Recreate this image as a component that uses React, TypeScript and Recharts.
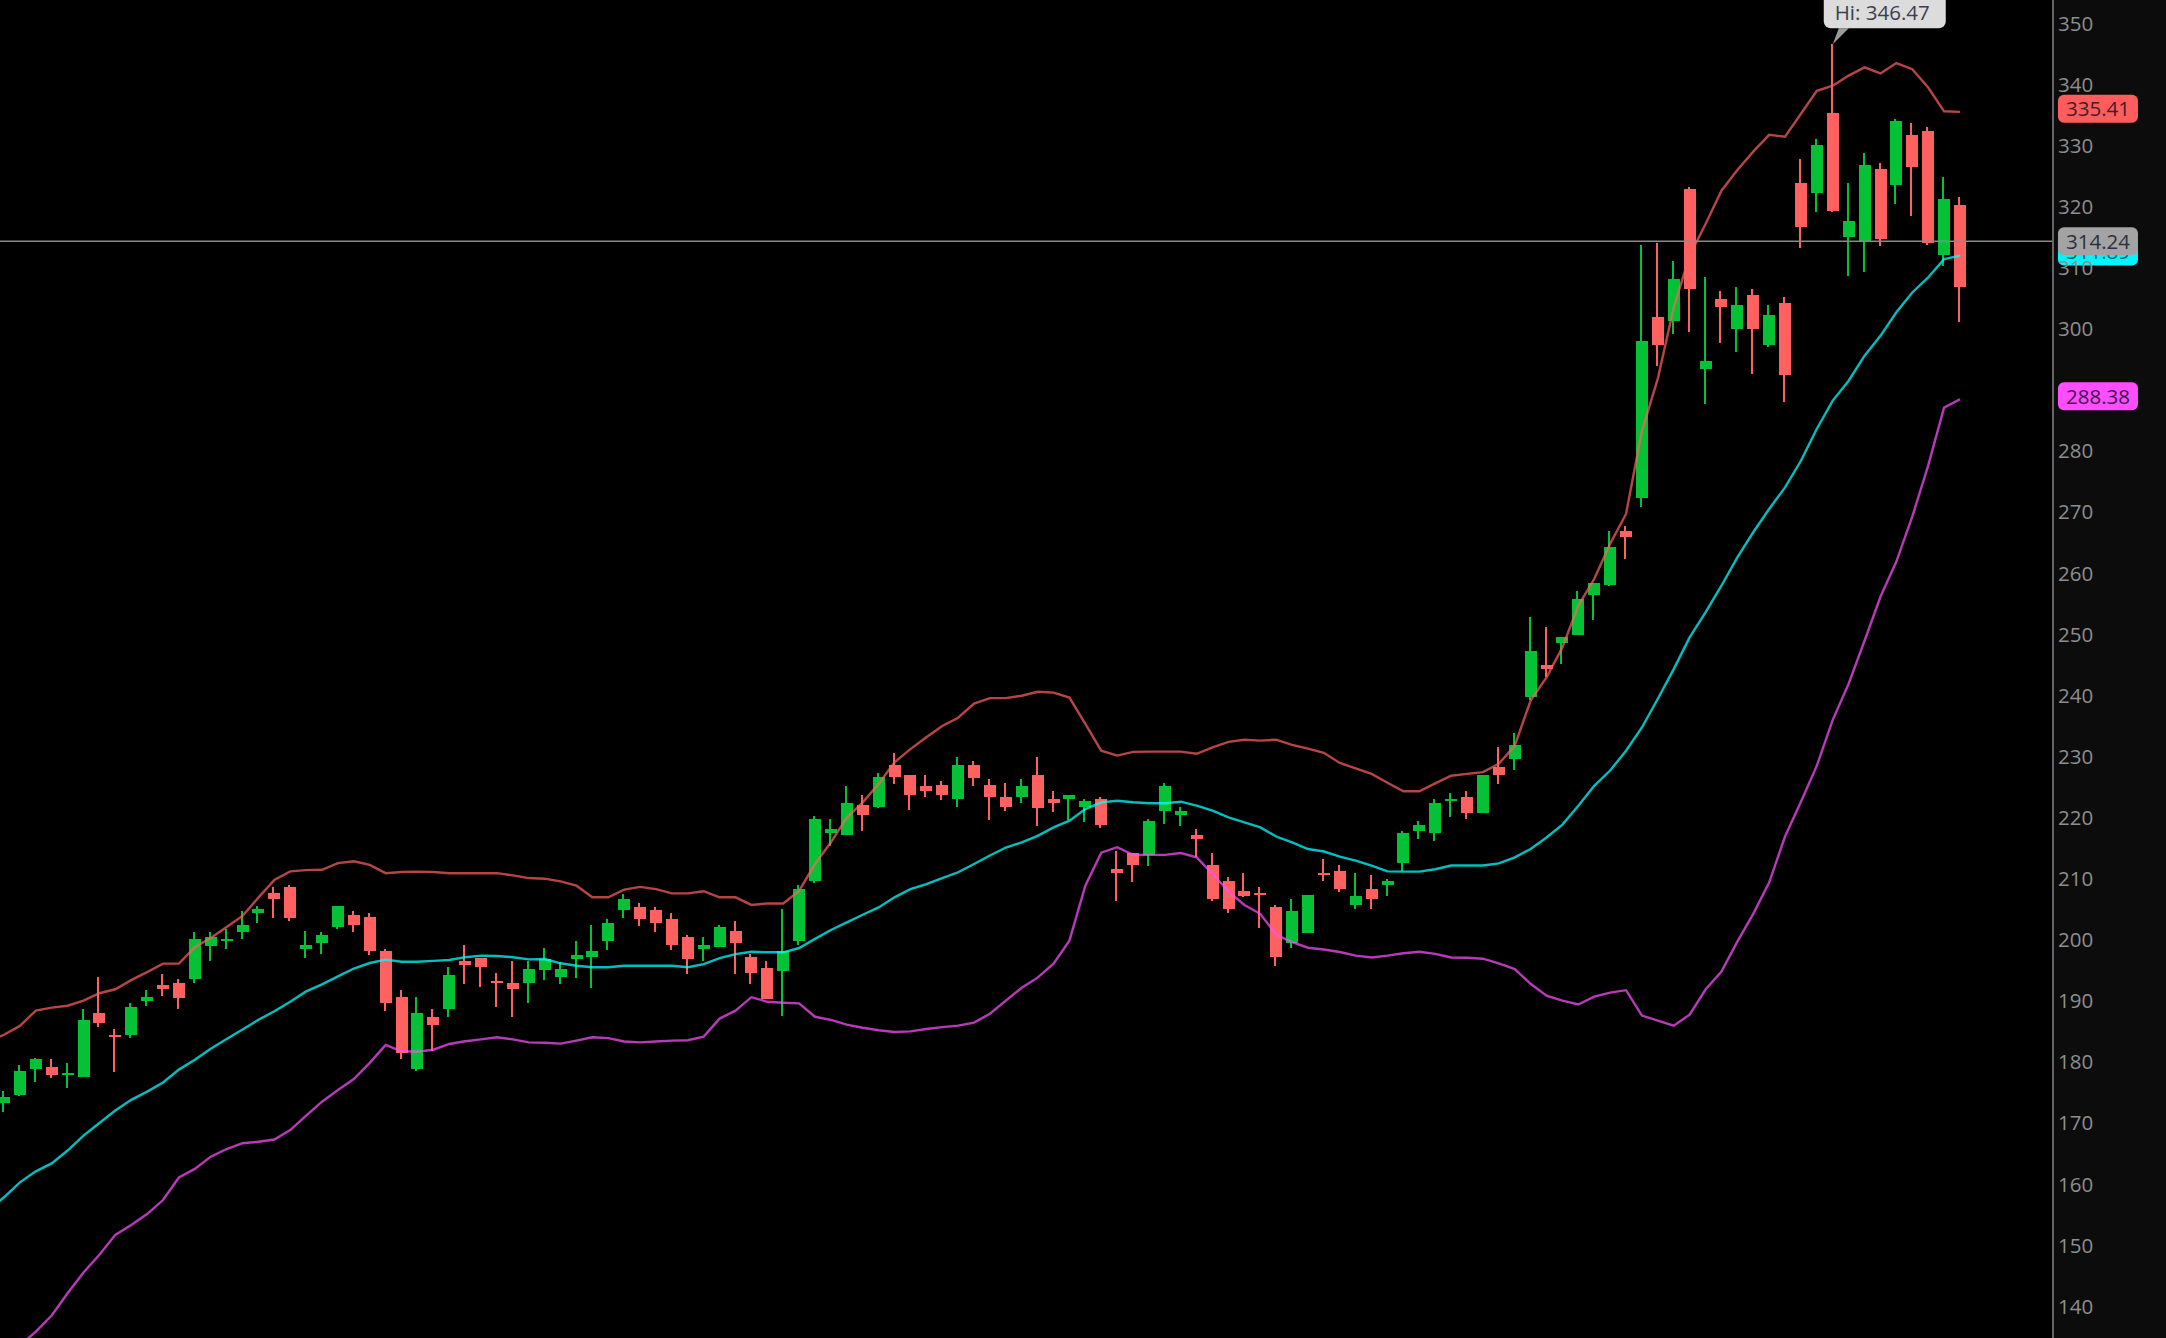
import { ComposedChart, Bar, Line, XAxis, YAxis, ReferenceLine, ReferenceDot } from 'recharts';

// the first entry of each list is the session just left of the visible edge
const opens = [
  172.5,
  173.2, 174.55, 178.8, 179.1, 177.9, 177.5, 187.95, 184.35, 184.35, 189.9,
  192.55, 192.9, 193.5, 198.8, 199.8, 201.1, 204.3, 207.6, 208.55, 198.4,
  199.4, 202, 204, 203.7, 198.1, 190.55, 178.8, 187.3, 188.6, 196.45,
  196.85, 193.2, 192.9, 192.9, 194.9, 193.85, 196.8, 197.15, 199.75, 204.7,
  205.3, 204.7, 203.35, 200.4, 198.45, 198.75, 201.4, 197.15, 195.2, 194.85,
  199.75, 209.55, 217.4, 217.1, 222, 221.7, 228.55, 226.9, 225, 225.3,
  223, 228.55, 225.3, 223.3, 223.3, 226.9, 223, 223, 221.65, 223,
  211.55, 214.15, 213.8, 221, 220.4, 217.1, 212.2, 209.55, 207.9, 207.6,
  205.3, 199.4, 201.05, 210.9, 211.2, 205.65, 208.25, 208.9, 212.5, 217.75,
  217.4, 222.65, 223.3, 220.7, 228.2, 229.55, 239.7, 244.9, 248.5, 249.85,
  256.4, 258, 266.85, 272.15, 301.9, 301.25, 322.8, 293.35, 304.8, 299.9,
  305.5, 297.3, 304.2, 323.8, 322.2, 335.25, 315, 314.3, 326.1, 323.5,
  331.65, 332.3, 312.05, 320.2,
];

const closes = [
  173,
  174.2, 178.5, 180.4, 177.8, 178.15, 186.7, 186.3, 184.1, 188.9, 190.55,
  191.9, 190.3, 200.05, 200.4, 200.05, 202.4, 205, 206.65, 203.4, 199.1,
  200.75, 205.35, 202.4, 198.1, 189.6, 181.4, 187.95, 186, 194.2, 195.85,
  195.5, 192.9, 191.9, 195.15, 196.8, 195.15, 197.45, 198.1, 202.7, 206.6,
  203.35, 202.7, 199.1, 196.8, 199.1, 202.05, 199.4, 194.5, 190.2, 198.1,
  208.25, 219.75, 218.1, 222.35, 220.35, 226.6, 226.6, 223.65, 224.3, 223.65,
  228.55, 226.3, 223.3, 221.7, 225, 221.4, 222.35, 223.65, 222.65, 218.75,
  210.9, 212.2, 219.4, 225, 221, 216.45, 206.6, 205, 207, 207.3,
  197.15, 204.65, 207.3, 210.55, 208.25, 207, 206.6, 209.55, 217.4, 218.75,
  222.35, 223, 220.7, 226.95, 226.95, 231.85, 247.2, 244.25, 249.5, 255.75,
  258.35, 264.25, 265.85, 297.95, 297.3, 308.1, 306.45, 294.7, 303.5, 303.85,
  299.9, 302.2, 292.4, 316.6, 330, 319.25, 317.6, 326.75, 314.65, 333.95,
  326.45, 314, 321.2, 306.8,
];

const highs = [
  174,
  175.2, 179.4, 180.5, 180.4, 179.7, 188.6, 193.75, 185.35, 189.6, 191.6,
  194.25, 193.5, 201.1, 201.1, 201.7, 204.6, 205.35, 208.5, 208.9, 201.4,
  201.1, 205.35, 204.65, 204.3, 198.45, 191.6, 190.55, 188.6, 195.5, 199.1,
  196.85, 194.5, 196.45, 196.45, 198.6, 196.2, 199.75, 202.3, 203.25, 207.4,
  206, 205.3, 204.3, 200.65, 200.3, 202.3, 203, 197.55, 196.5, 204.9,
  208.9, 220.1, 219.7, 225, 223.65, 227.2, 230.5, 226.9, 226.9, 225.95,
  229.85, 229.2, 226.2, 225.6, 226.2, 229.85, 224.3, 223.65, 222.95, 223.3,
  214.45, 214.15, 219.65, 225.55, 221.65, 218, 214.15, 210.25, 210.85, 208.5,
  205.6, 206.6, 207.3, 213.1, 212.15, 210.85, 210.5, 209.85, 217.75, 219.4,
  222.95, 223.9, 224.3, 226.95, 231.4, 233.7, 252.8, 251.15, 249.5, 257,
  258.35, 266.75, 267.7, 313.6, 313.95, 311, 323.15, 308.3, 306.15, 306.8,
  306.45, 303.85, 305.15, 327.7, 331, 346.47, 323.7, 328.65, 327, 334.25,
  333.6, 333, 324.7, 321.4,
];

const lows = [
  171.5,
  171.7, 174.3, 176.6, 177.2, 175.6, 177.5, 185.7, 178.2, 183.8, 189,
  190.65, 188.65, 192.9, 196.45, 198.4, 200.05, 202.7, 203.4, 203.05, 196.85,
  197.5, 201.7, 201.1, 197.4, 188.3, 180.45, 178.45, 181.75, 187.3, 192.6,
  192.25, 188.9, 187.3, 189.6, 193.35, 192.7, 193.65, 192, 198.25, 203.45,
  202.2, 201.15, 198.25, 194.25, 196.5, 198.65, 194.25, 192.7, 190.2, 187.35,
  199.1, 209.25, 215.3, 217.1, 217.75, 221.4, 225.4, 221.1, 223.3, 222.8,
  221.7, 225, 219.55, 221.05, 222.35, 218.45, 220.75, 219.55, 219.1, 218.2,
  206.3, 209.35, 212, 218.85, 218.5, 213.5, 206.3, 204.35, 206.85, 201.8,
  195.55, 198.55, 201, 209.55, 207.65, 205, 205, 207, 211.1, 216.45,
  216.1, 220.05, 219.7, 220.7, 225.4, 227.7, 239.15, 242.85, 245.05, 249.85,
  252.25, 257.8, 262.3, 270.8, 293.85, 299.05, 299.3, 287.6, 297.65, 296.05,
  292.5, 297, 287.85, 313.05, 318.95, 319.1, 308.6, 309.15, 313.4, 320.3,
  318.3, 313.65, 310.2, 301,
];

const upperBand = [
  183.2,
  184.35, 185.8, 188.3, 188.8, 189.1, 189.95, 191.15, 191.8, 193.3, 194.6,
  196, 196, 198.7, 200.2, 202, 203.8, 206.8, 209.7, 211.1, 211.3,
  211.35, 212.45, 212.75, 212.15, 210.8, 211, 211.05, 211, 210.8, 210.8,
  210.8, 210.8, 210.45, 210, 209.9, 209.45, 208.75, 206.85, 206.85, 208.1,
  208.55, 208.2, 207.5, 207.5, 207.85, 206.85, 206.85, 205.6, 205.85, 205.85,
  207.9, 212.3, 215.85, 219.9, 222.4, 225.4, 228.95, 231.1, 233.05, 234.9,
  236.25, 238.55, 239.45, 239.45, 239.85, 240.5, 240.35, 239.55, 235.25, 230.85,
  230.05, 230.65, 230.7, 230.7, 230.7, 230.35, 231.4, 232.3, 232.65, 232.5,
  232.65, 231.8, 231.2, 230.5, 228.85, 227.95, 227.05, 225.6, 224.2, 224.2,
  225.5, 226.75, 227.05, 227.35, 228.7, 231.65, 239.05, 242.85, 247.75, 254.6,
  258.95, 264.7, 269.6, 283.2, 291.75, 303.4, 311.85, 317.05, 322.5, 325.9,
  328.9, 331.65, 331.35, 335.1, 338.85, 339.7, 341.35, 342.7, 341.7, 343.4,
  342.4, 339.4, 335.5, 335.41,
];

const middleBand = [
  155.6,
  157.75, 160.2, 162, 163.3, 165.4, 167.85, 169.9, 171.95, 173.7, 175.05,
  176.55, 178.65, 180.25, 182.05, 183.65, 185.2, 186.8, 188.2, 189.75, 191.45,
  192.6, 193.9, 195.2, 196.1, 196.65, 196.3, 196.3, 196.45, 196.6, 197.05,
  197.3, 197.25, 197.05, 196.7, 196.75, 196.05, 195.65, 195.4, 195.4, 195.65,
  195.65, 195.65, 195.65, 195.4, 195.9, 196.9, 197.55, 197.95, 197.85, 197.85,
  198.55, 200.05, 201.5, 202.75, 204, 205.2, 206.85, 208.2, 209, 210,
  210.95, 212.3, 213.7, 215, 215.85, 216.9, 218.3, 219.4, 221.3, 222.4,
  222.65, 222.4, 222.25, 222.25, 222.5, 221.85, 221.05, 219.95, 219.1, 218.3,
  216.8, 215.85, 214.75, 214.35, 213.5, 212.85, 212.05, 211.1, 211.05, 211.05,
  211.45, 212.05, 212.05, 212.05, 212.4, 213.4, 214.75, 216.65, 218.75, 221.85,
  225.1, 227.6, 230.85, 234.65, 239.35, 244.2, 249.4, 253.5, 257.85, 262.5,
  266.6, 270.4, 273.95, 278.3, 283.55, 288.15, 291.4, 295.5, 298.75, 302.6,
  305.85, 308.3, 311.3, 311.89,
];

const lowerBand = [
  128.5,
  131, 133.5, 135.75, 138.4, 142.05, 145.45, 148.35, 151.6, 153.2, 155,
  157.3, 161, 162.4, 164.4, 165.65, 166.6, 166.85, 167.2, 168.75, 171.1,
  173.4, 175.3, 177.1, 179.75, 182.7, 181.65, 181.6, 181.9, 182.85, 183.3,
  183.6, 183.95, 183.6, 183.1, 183.05, 182.9, 183.4, 183.95, 183.8, 183.25,
  183.1, 183.25, 183.4, 183.45, 184.05, 187, 188.3, 190.5, 189.75, 189.6,
  189.5, 187.3, 186.8, 186, 185.5, 185.1, 184.8, 184.9, 185.3, 185.6,
  185.85, 186.35, 187.8, 189.95, 192.05, 193.7, 196, 199.75, 208.75, 214.15,
  215.05, 213.8, 213.8, 213.8, 214.1, 213.4, 210.7, 207.8, 205.6, 204.15,
  200.75, 199.5, 198.6, 198.3, 197.9, 197.3, 197, 197.3, 197.7, 197.95,
  197.6, 197, 196.95, 196.8, 196.05, 195.1, 192.7, 190.75, 189.95, 189.3,
  190.6, 191.25, 191.65, 187.5, 186.65, 185.85, 187.65, 191.75, 194.7, 199.6,
  204.15, 209.25, 216.8, 222.5, 228.4, 235.9, 241.8, 248.85, 256.05, 261.8,
  269.15, 277.5, 287, 288.38,
];

const axisTicks = [350, 340, 330, 320, 310, 300, 280, 270, 260, 250, 240, 230, 220, 210, 200, 190, 180, 170, 160, 150, 140];

const lastIndex = opens.length - 2;
const highIndex = 115;
const highValue = 346.47;
const crosshairValue = 314.24;

const rows = opens.map((open, i) => ({
  idx: i - 1,
  open,
  close: closes[i],
  high: highs[i],
  low: lows[i],
  range: [lows[i], highs[i]],
  upper: upperBand[i],
  middle: middleBand[i],
  lower: lowerBand[i],
}));

const FONT = '"Open Sans", sans-serif';
const GREEN = '#05c135';
const RED = '#ff6161';

function Candle(props: any) {
  const { x, y, width, height, payload } = props;
  const { open, close, high, low } = payload;
  const perUnit = height / (high - low);
  const toY = (v: number) => y + (high - v) * perUnit;
  const top = Math.round(toY(Math.max(open, close)));
  const bottom = Math.round(toY(Math.min(open, close)));
  const left = Math.round(x);
  const fill = close >= open ? GREEN : RED;
  return (
    <g shapeRendering="crispEdges">
      <rect x={left + 4} y={y} width={2} height={height} fill={fill} />
      <rect x={left} y={top} width={width} height={Math.max(bottom - top, 2)} fill={fill} />
    </g>
  );
}

// price tag sitting on the axis, anchored to the last candle
function priceTag(label: string, fill: string, textFill: string, shift: number) {
  return (props: any) => {
    const left = props.cx + 98;
    const mid = props.cy + shift;
    return (
      <g>
        <rect x={left} y={mid - 14} width={80} height={28} rx={6} fill={fill} />
        <text x={left + 40} y={mid + 7.5} textAnchor="middle" fontFamily={FONT} fontSize={20.5} fill={textFill}>
          {label}
        </text>
      </g>
    );
  };
}

function HighTag(props: any) {
  const { cx, cy } = props;
  return (
    <g>
      <polygon points={`${cx},${cy} ${cx + 6},${cy - 16} ${cx + 16},${cy - 16}`} fill="#9a9a9a" />
      <rect x={cx - 9} y={cy - 56} width={122} height={40} rx={7} fill="#dcdcdc" />
      <text x={cx + 2} y={cy - 24.5} fontFamily={FONT} fontSize={20.5} fill="#3a3f4e">
        Hi: {highValue}
      </text>
    </g>
  );
}

function AxisTick(props: any) {
  const { x, y, payload } = props;
  return (
    <text x={x - 3} y={y + 8} fontFamily={FONT} fontSize={20.5} fill="#8e8e8e">
      {payload.value}
    </text>
  );
}

export default function App() {
  return (
    <div style={{ position: 'absolute', left: 0, top: 0, width: 2166, height: 1338, background: '#000', overflow: 'hidden' }}>
      <div style={{ position: 'absolute', left: 2053, top: 0, width: 113, height: 1338, background: '#0c0c0c' }} />
      <ComposedChart width={2166} height={1338} data={rows} margin={{ top: 0, right: 0, bottom: 0, left: 0 }}>
        <XAxis dataKey="idx" type="number" domain={[-0.25, 128.85]} hide allowDataOverflow />
        <YAxis
          orientation="right"
          width={113}
          domain={[134.72, 353.72]}
          ticks={axisTicks}
          interval={0}
          allowDataOverflow
          tickLine={false}
          axisLine={{ stroke: '#666666', strokeWidth: 2 }}
          tick={<AxisTick />}
        />
        <Bar dataKey="range" barSize={12} shape={<Candle />} isAnimationActive={false} />
        <Line type="linear" dataKey="upper" stroke="#ff5f5f" strokeOpacity={0.72} strokeWidth={2.4} dot={false} activeDot={false} isAnimationActive={false} />
        <Line type="linear" dataKey="middle" stroke="#00ffff" strokeOpacity={0.75} strokeWidth={2.4} dot={false} activeDot={false} isAnimationActive={false} />
        <Line type="linear" dataKey="lower" stroke="#ff50ff" strokeOpacity={0.72} strokeWidth={2.4} dot={false} activeDot={false} isAnimationActive={false} />
        <ReferenceLine y={crosshairValue} stroke="#8a8a8a" strokeWidth={1.5} />
        <ReferenceDot x={highIndex} y={highValue} r={1} shape={<HighTag />} />
        <ReferenceDot x={lastIndex} y={335.41} r={1} shape={priceTag('335.41', '#ff5c5c', '#40202a', -3)} />
        <ReferenceDot x={lastIndex} y={288.38} r={1} shape={priceTag('288.38', '#ff4dff', '#3a1a4a', -3)} />
        <ReferenceDot x={lastIndex} y={311.89} r={1} shape={priceTag('311.89', '#00f6ff', '#10606a', -4)} />
        <ReferenceDot x={lastIndex} y={crosshairValue} r={1} shape={priceTag('314.24', '#a3a3a3', '#2c3040', 0)} />
      </ComposedChart>
    </div>
  );
}
